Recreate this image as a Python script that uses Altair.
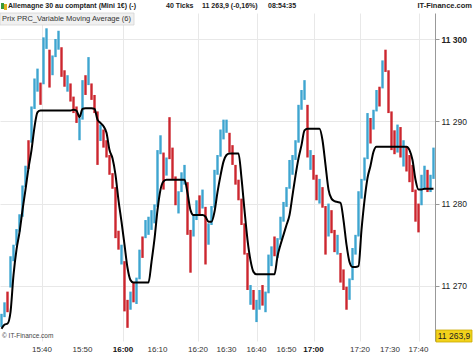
import altair as alt
import pandas as pd

# ---- data (40-tick bars, DAX mini) ----
HIGH = [
    11266.6, 11268.0, 11269.3, 11273.6, 11275.0, 11276.9, 11278.7, 11282.2, 11284.6, 11287.7,
    11291.8, 11295.2, 11296.4, 11294.7, 11300.2, 11301.3, 11298.7, 11298.0, 11300.0, 11301.0,
    11299.0, 11296.2, 11295.6, 11294.6, 11293.0, 11291.8, 11290.4, 11295.0, 11295.6, 11297.8,
    11294.6, 11293.2, 11291.2, 11289.6, 11289.0, 11287.7, 11285.9, 11283.7, 11282.0, 11276.7,
    11275.0, 11273.0, 11268.3, 11269.3, 11270.4, 11271.0, 11274.4, 11276.0, 11278.0, 11278.4,
    11279.2, 11279.9, 11286.5, 11288.3, 11286.2, 11285.6, 11290.5, 11286.8, 11283.3, 11281.5,
    11283.8, 11284.7, 11282.6, 11276.8, 11278.6, 11280.4, 11281.0, 11281.7, 11279.6, 11277.6,
    11279.7, 11284.1, 11285.9, 11289.0, 11290.2, 11290.2, 11288.6, 11287.1, 11284.7, 11282.9,
    11280.6, 11277.6, 11274.0, 11270.1, 11269.5, 11268.3, 11269.5, 11270.1, 11269.3, 11273.8,
    11274.8, 11276.0, 11275.8, 11278.4, 11280.2, 11282.0, 11285.3, 11285.9, 11287.7, 11292.0,
    11293.8, 11295.0, 11292.0, 11286.5, 11285.9, 11283.5, 11283.0, 11282.0, 11279.7, 11280.0,
    11279.2, 11276.8, 11276.2, 11274.0, 11272.0, 11269.9, 11270.9, 11274.6, 11276.2, 11281.5,
    11283.0, 11285.6, 11291.0, 11290.4, 11291.4, 11293.8, 11294.2, 11297.4, 11298.7, 11296.2,
    11291.2, 11288.9, 11289.6, 11289.3, 11287.7, 11287.0, 11285.9, 11284.7, 11281.7, 11280.0,
    11283.5, 11284.6, 11284.1, 11283.5, 11286.8]
LOW = [
    11265.0, 11266.2, 11266.8, 11269.8, 11273.0, 11274.9, 11276.6, 11278.4, 11282.0, 11284.2,
    11287.4, 11291.5, 11293.6, 11292.0, 11294.5, 11298.8, 11294.1, 11295.6, 11297.8, 11298.7,
    11295.4, 11294.2, 11293.6, 11292.4, 11291.0, 11289.8, 11287.7, 11290.2, 11293.2, 11294.4,
    11292.6, 11291.0, 11284.7, 11287.6, 11286.8, 11285.6, 11283.5, 11281.8, 11275.8, 11274.4,
    11272.6, 11266.9, 11264.9, 11267.1, 11268.0, 11267.8, 11270.8, 11273.4, 11275.8, 11276.2,
    11276.8, 11277.6, 11279.6, 11286.0, 11281.7, 11283.4, 11285.4, 11283.0, 11279.8, 11278.8,
    11281.4, 11282.3, 11276.2, 11271.6, 11276.0, 11278.0, 11278.6, 11279.4, 11272.6, 11275.0,
    11277.4, 11279.5, 11283.5, 11285.7, 11287.8, 11288.6, 11286.2, 11284.7, 11282.3, 11280.4,
    11277.4, 11273.8, 11269.5, 11267.7, 11267.1, 11265.6, 11267.1, 11267.6, 11266.8, 11269.1,
    11272.4, 11273.6, 11273.4, 11275.6, 11277.8, 11279.6, 11281.8, 11283.5, 11285.3, 11287.4,
    11291.4, 11292.6, 11285.6, 11284.1, 11282.9, 11280.4, 11280.0, 11279.5, 11273.8, 11276.0,
    11276.4, 11274.1, 11273.8, 11270.4, 11269.5, 11267.1, 11268.3, 11270.7, 11273.8, 11276.0,
    11280.6, 11282.8, 11285.4, 11287.3, 11289.0, 11291.2, 11291.8, 11294.0, 11296.0, 11291.0,
    11286.5, 11286.0, 11286.2, 11285.6, 11284.5, 11283.9, 11282.6, 11281.4, 11277.8, 11276.5,
    11279.8, 11281.7, 11281.4, 11281.4, 11283.0]
UP = [
    1, 1, 0, 1, 1, 1, 1, 1, 1, 0,
    1, 1, 1, 0, 1, 1, 0, 1, 1, 1,
    0, 0, 1, 0, 0, 0, 1, 1, 0, 1,
    0, 0, 0, 1, 0, 0, 0, 0, 0, 0,
    1, 0, 0, 1, 0, 1, 1, 0, 1, 1,
    1, 1, 1, 1, 0, 1, 0, 0, 0, 1,
    1, 1, 0, 0, 1, 1, 0, 1, 0, 1,
    1, 1, 1, 1, 1, 1, 0, 0, 0, 0,
    0, 0, 0, 1, 0, 1, 1, 0, 1, 1,
    1, 0, 1, 1, 1, 1, 1, 1, 1, 1,
    1, 1, 0, 1, 0, 0, 1, 0, 0, 1,
    0, 0, 1, 0, 0, 0, 1, 1, 1, 1,
    1, 1, 1, 0, 1, 1, 0, 1, 0, 0,
    0, 0, 1, 0, 1, 0, 0, 0, 0, 0,
    1, 1, 0, 1, 1]
MA = [
    11264.8, 11265.3, 11265.4, 11266.8, 11271.3, 11274.4, 11276.5, 11279.2, 11281.7, 11284.3,
    11286.5, 11289.3, 11291.1, 11291.3, 11291.3, 11291.3, 11291.3, 11291.3, 11291.3, 11291.3,
    11291.3, 11291.3, 11291.3, 11291.3, 11291.4, 11291.3, 11290.5, 11291.5, 11291.6, 11291.6,
    11291.6, 11291.5, 11290.2, 11289.8, 11289.4, 11288.6, 11286.5, 11285.5, 11283.5, 11280.4,
    11277.8, 11275.0, 11272.2, 11270.7, 11270.4, 11270.4, 11270.4, 11270.4, 11270.4, 11270.4,
    11272.9, 11275.7, 11279.2, 11281.7, 11282.7, 11282.9, 11282.9, 11282.9, 11282.9, 11282.9,
    11282.9, 11282.9, 11281.3, 11279.2, 11278.6, 11278.6, 11278.6, 11278.6, 11278.4, 11277.8,
    11277.8, 11279.0, 11281.4, 11283.4, 11285.1, 11285.9, 11286.1, 11286.1, 11286.1, 11286.1,
    11283.1, 11279.2, 11275.6, 11273.1, 11271.7, 11271.4, 11271.4, 11271.4, 11271.4, 11271.4,
    11271.4, 11271.4, 11273.6, 11275.0, 11276.2, 11277.4, 11278.6, 11281.0, 11283.4, 11285.5,
    11287.1, 11288.9, 11289.1, 11289.1, 11289.1, 11289.1, 11289.1, 11287.7, 11284.7, 11281.7,
    11280.6, 11280.3, 11280.2, 11280.1, 11278.0, 11275.0, 11272.9, 11272.3, 11272.3, 11272.4,
    11276.8, 11280.4, 11283.1, 11284.6, 11286.3, 11286.9, 11286.9, 11286.9, 11286.9, 11286.9,
    11286.9, 11286.9, 11286.9, 11286.9, 11286.9, 11286.9, 11286.5, 11285.3, 11282.9, 11281.7,
    11281.7, 11281.8, 11281.8, 11281.8, 11281.8]

TIME_POS = [13.5, 27, 40.5, 52, 65.5, 75, 85, 95, 104, 112, 119.5, 129.5, 139]
TIME_LABELS = ["15:40", "15:50", "16:00", "16:10", "16:20", "16:30", "16:40",
               "16:50", "17:00", "", "17:20", "17:30", "17:40"]
BOLD_TIMES = ["16:00", "17:00"]
PRICE_TICKS = [11270, 11280, 11290, 11300]
LAST_PRICE = 11263.9

BLUE = "#2e9dcc"
RED = "#c8141c"
FONT = "Liberation Sans"

n = len(HIGH)
bars = pd.DataFrame({"bar": list(range(n)), "high": HIGH, "low": LOW, "up": UP, "ma": MA})
times = pd.DataFrame({"pos": TIME_POS, "label": TIME_LABELS,
                      "bold": [t in BOLD_TIMES for t in TIME_LABELS]})

W, H = 435, 328
xs = alt.Scale(domain=[-0.5, n - 0.5], nice=False, zero=False)
ys = alt.Scale(domain=[11263.3, 11303.16], nice=False, zero=False)

x_axis = alt.Axis(
    values=TIME_POS, orient="bottom", title=None, domain=False, ticks=False,
    labels=False, grid=True, gridColor="#e8e8e8")
y_axis = alt.Axis(
    values=PRICE_TICKS, orient="right", title=None,
    labelExpr="replace(format(datum.value, ','), ',', ' ')",
    labelFont=FONT, labelFontSize=8.5, labelColor="#222", labelPadding=2,
    labelFontWeight={"condition": {"test": "datum.value == 11300", "value": "bold"}, "value": "normal"},
    domainColor="#999", tickColor="#999", tickSize=4,
    grid=True, gridColor="#e8e8e8")

base = alt.Chart(bars)
bar_layer = base.mark_rule(strokeWidth=2.4, opacity=0.92).encode(
    x=alt.X("bar:Q", scale=xs, axis=x_axis),
    y=alt.Y("low:Q", scale=ys, axis=y_axis),
    y2="high:Q",
    color=alt.Color("up:N", scale=alt.Scale(domain=[0, 1], range=[RED, BLUE]), legend=None),
)
ma_layer = base.mark_line(color="#000", strokeWidth=2, interpolate="monotone").encode(
    x=alt.X("bar:Q", scale=xs),
    y=alt.Y("ma:Q", scale=ys),
)

tbase = alt.Chart(times)
time_normal = tbase.transform_filter("!datum.bold").mark_text(
    font=FONT, fontSize=8, color="#333", baseline="middle", align="center").encode(
    x=alt.X("pos:Q", scale=xs), y=alt.value(H + 9), text="label:N")
time_bold = tbase.transform_filter("datum.bold").mark_text(
    font=FONT, fontSize=8, fontWeight="bold", color="#111", baseline="middle", align="center").encode(
    x=alt.X("pos:Q", scale=xs), y=alt.value(H + 9), text="label:N")

one = pd.DataFrame({"k": [0]})

def txt(s, x, y, size=8, weight="bold", align="left", color="#222"):
    return alt.Chart(one).mark_text(
        text=s, font=FONT, fontSize=size, fontWeight=weight, align=align,
        baseline="middle", color=color).encode(x=alt.value(x), y=alt.value(y))

def box(x1, x2, y1, y2, fill, stroke=None):
    kw = {"fill": fill}
    if stroke:
        kw["stroke"] = stroke
        kw["strokeWidth"] = 0.8
    return alt.Chart(one).mark_rect(**kw).encode(
        x=alt.value(x1), x2=alt.value(x2), y=alt.value(y1), y2=alt.value(y2))

annot = [
    box(1, 4, -10, -4, "#3a9a3a"),
    box(4, 7, -9, -3, "#e0b020"),
    txt("Allemagne 30 au comptant (Mini 1€) (-)", 8, -7, size=7),
    txt("40 Ticks", 166, -7, size=7),
    txt("11 263,9 (-0,16%)", 202, -7, size=7),
    txt("08:54:35", 268, -7, size=7),
    txt("IT-Finance.com", 472, -7, size=7.5, align="right"),
    box(0, 134, 0, 12, "#f0f0f0", "#d4d4d4"),
    txt("Prix PRC_Variable Moving Average (6)", 2, 6, size=7.5, weight="normal", color="#333"),
    txt("© IT-Finance.com", 2, 323, size=6.5, weight="normal", color="#444"),
    box(436, 472, 317, 329, "#f2d21b", "#c9a800"),
    txt(f"{LAST_PRICE:,.1f}".replace(",", " ").replace(".", ","), 454, 323,
        size=8.5, weight="normal", align="center", color="#222"),
]

chart = alt.layer(bar_layer, ma_layer, time_normal, time_bold, *annot).properties(
    width=W, height=H,
    autosize=alt.AutoSizeParams(type="none"),
    padding={"left": 0, "top": 13, "right": 39, "bottom": 14},
    background="white",
).configure_view(stroke=None)

chart.save("out.html", embed_options={"renderer": "svg", "actions": False})
